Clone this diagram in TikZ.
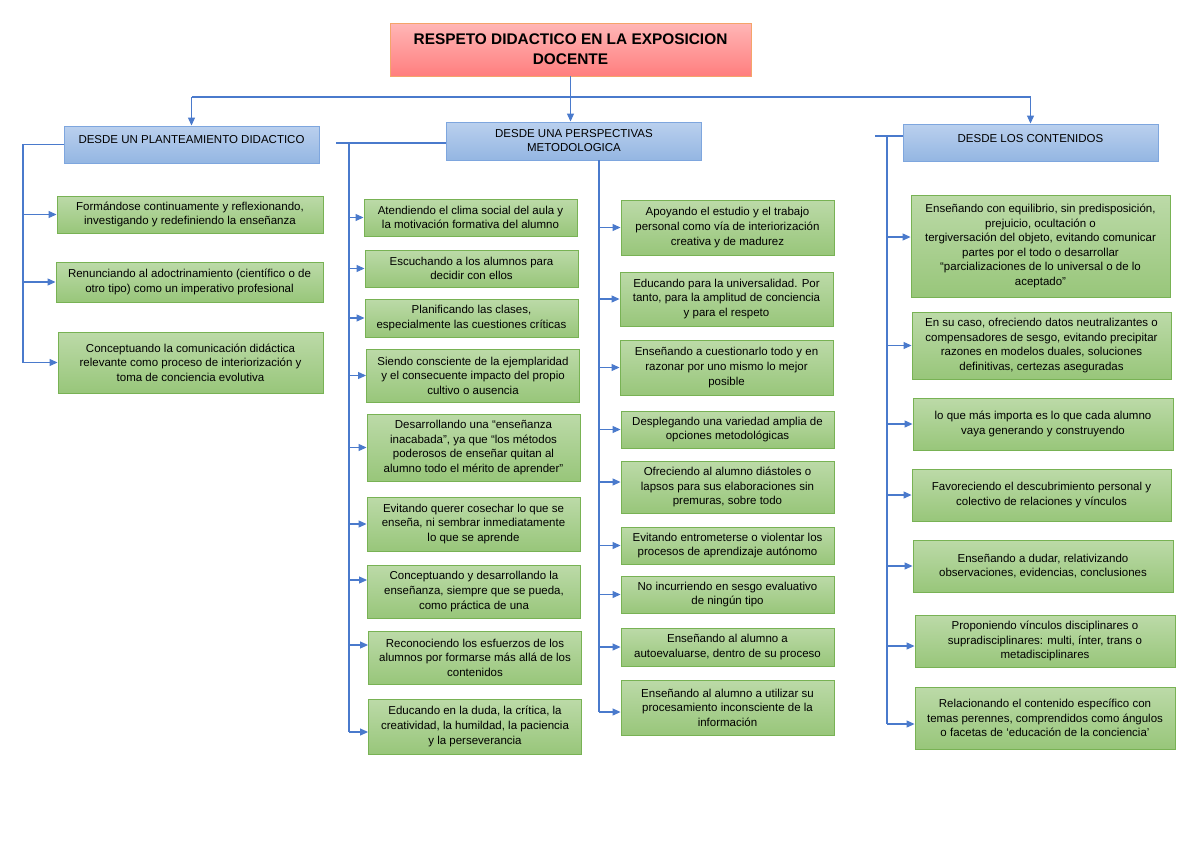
\documentclass[tikz,border=0pt]{standalone}
\usepackage{fontspec}
\setmainfont{Liberation Sans}
\usepackage{tikz}
\usetikzlibrary{arrows.meta, positioning, calc}
\definecolor{mylink}{RGB}{74,122,204}
\definecolor{ttop}{RGB}{255,182,182}
\definecolor{tbot}{RGB}{255,126,126}
\definecolor{tframe}{RGB}{244,164,106}
\definecolor{htop}{RGB}{186,208,238}
\definecolor{hbot}{RGB}{148,182,226}
\definecolor{hframe}{RGB}{126,166,222}
\definecolor{gtop}{RGB}{188,218,168}
\definecolor{gbot}{RGB}{152,198,122}
\definecolor{gframe}{RGB}{120,178,84}
\tikzset{
  titlebox/.style={rectangle, draw=tframe, top color=ttop, bottom color=tbot,
    minimum width=361pt, minimum height=53pt, align=center, inner sep=0pt,
    font=\fontsize{15.4}{20}\selectfont\bfseries, line width=0.9pt},
  headbox/.style={rectangle, draw=hframe, top color=htop, bottom color=hbot,
    minimum width=255pt, minimum height=37pt, align=center, inner sep=0pt,
    font=\fontsize{11.5}{14}\selectfont, line width=0.9pt},
  greenbox/.style={rectangle, draw=gframe, top color=gtop, bottom color=gbot,
    minimum width=213pt, align=center, inner sep=0pt,
    font=\fontsize{11.5}{14.6}\selectfont, line width=0.9pt},
  arrow/.style={-{Triangle[length=8pt, width=7pt]}, color=mylink, line width=1.1pt},
  line/.style={color=mylink, line width=1.1pt}
}

\begin{document}
\begin{tikzpicture}[x=1pt, y=-1pt]
  \useasboundingbox[fill=white] (0,0) rectangle (1200,847);

  % Title
  \node[titlebox] (t) at (570.5,49.5) {RESPETO DIDACTICO EN LA EXPOSICION\\DOCENTE};

  % Headers
  \node[headbox, text height=9pt, text depth=12pt] (h1) at (191.5,144.5) {DESDE UN PLANTEAMIENTO DIDACTICO};
  \node[headbox, minimum height=38pt] (h2) at (574,141) {DESDE UNA PERSPECTIVAS\\METODOLOGICA};
  \node[headbox, text height=9pt, text depth=10pt] (h3) at (1030.5,142.5) {DESDE LOS CONTENIDOS};

  % Title to headers
  \coordinate (bus) at (0,97);
  \draw[line] (t.south) -- (t.south |- bus);
  \draw[line] (h1.north |- bus) -- (h3.north |- bus);
  \draw[arrow] (h1.north |- bus) -- (h1.north);
  \draw[arrow] (t.south |- bus) -- (t.south |- h2.north);
  \draw[arrow] (h3.north |- bus) -- (h3.north);

  % Column 1
  \node[greenbox, minimum width=266pt, minimum height=37pt] (p1) at (190,214.5) {Formándose continuamente y reflexionando,\\investigando y redefiniendo la enseñanza};
  \node[greenbox, minimum width=267pt, minimum height=40pt] (p2) at (189.5,282) {Renunciando al adoctrinamiento (científico o de\\otro tipo) como un imperativo profesional};
  \node[greenbox, minimum width=265pt, minimum height=61pt] (p3) at (190.5,362.5) {Conceptuando la comunicación didáctica\\relevante como proceso de interiorización y\\toma de conciencia evolutiva};

  \coordinate (s1) at (23,0);
  \draw[line] (h1.west) -- (h1.west -| s1) -- (s1 |- p3.west);
  \draw[arrow] (s1 |- p1.west) -- (p1.west);
  \draw[arrow] (s1 |- p2.west) -- (p2.west);
  \draw[arrow] (s1 |- p3.west) -- (p3.west);

  % Column 2
  \node[greenbox, minimum height=37pt] (m1) at (470.5,217.5) {Atendiendo el clima social del aula y\\la motivación formativa del alumno};
  \node[greenbox, minimum height=37pt] (m2) at (471.5,268.5) {Escuchando a los alumnos para\\decidir con ellos};
  \node[greenbox, minimum height=38pt] (m3) at (471.5,318) {Planificando las clases,\\especialmente las cuestiones críticas};
  \node[greenbox, minimum height=53pt] (m4) at (473,375.5) {Siendo consciente de la ejemplaridad\\y el consecuente impacto del propio\\cultivo o ausencia};
  \node[greenbox, minimum height=67pt] (m5) at (473.5,447.5) {Desarrollando una “enseñanza\\inacabada”, ya que “los métodos\\poderosos de enseñar quitan al\\alumno todo el mérito de aprender”};
  \node[greenbox, minimum height=54pt] (m6) at (473.5,524) {Evitando querer cosechar lo que se\\enseña, ni sembrar inmediatamente\\lo que se aprende};
  \node[greenbox, minimum height=53pt] (m7) at (474,591.5) {Conceptuando y desarrollando la\\enseñanza, siempre que se pueda,\\como práctica de una};
  \node[greenbox, minimum height=53pt] (m8) at (475,657.5) {Reconociendo los esfuerzos de los\\alumnos por formarse más allá de los\\contenidos};
  \node[greenbox, minimum height=55pt] (m9) at (475,726.5) {Educando en la duda, la crítica, la\\creatividad, la humildad, la paciencia\\y la perseverancia};

  \coordinate (s2) at (349,0);
  \coordinate (s2a) at (336,143);
  \draw[line] (s2a) -- (s2a -| h2.west);
  \draw[line] (s2 |- s2a) -- ($(s2 |- m9.west)+(0,5.5)$);
  \foreach \b in {m1,m2,m3,m4,m5,m6}
    \draw[arrow] (s2 |- \b.west) -- (\b.west);
  \draw[arrow] ($(s2 |- m7.west)+(0,-11.5)$) -- ([yshift=11.5pt]m7.west);
  \draw[arrow] ($(s2 |- m8.west)+(0,-12.5)$) -- ([yshift=12.5pt]m8.west);
  \draw[arrow] ($(s2 |- m9.west)+(0,5.5)$) -- ([yshift=-5.5pt]m9.west);

  % Column 3
  \node[greenbox, minimum height=55pt] (n1) at (727.5,227.5) {Apoyando el estudio y el trabajo\\personal como vía de interiorización\\creativa y de madurez};
  \node[greenbox, minimum height=54pt] (n2) at (726.5,299) {Educando para la universalidad. Por\\tanto, para la amplitud de conciencia\\y para el respeto};
  \node[greenbox, minimum height=55pt] (n3) at (726.5,367.5) {Enseñando a cuestionarlo todo y en\\razonar por uno mismo lo mejor\\posible};
  \node[greenbox, minimum height=37pt] (n4) at (727.5,429.5) {Desplegando una variedad amplia de\\opciones metodológicas};
  \node[greenbox, minimum height=52pt] (n5) at (727.5,487) {Ofreciendo al alumno diástoles o\\lapsos para sus elaboraciones sin\\premuras, sobre todo};
  \node[greenbox, minimum height=37pt] (n6) at (727.5,545.5) {Evitando entrometerse o violentar los\\procesos de aprendizaje autónomo};
  \node[greenbox, minimum height=37pt] (n7) at (727.5,594.5) {No incurriendo en sesgo evaluativo\\de ningún tipo};
  \node[greenbox, minimum height=38pt] (n8) at (727.5,647) {Enseñando al alumno a\\autoevaluarse, dentro de su proceso};
  \node[greenbox, minimum height=55pt] (n9) at (727.5,707.5) {Enseñando al alumno a utilizar su\\procesamiento inconsciente de la\\información};

  \coordinate (s3) at (599,0);
  \draw[line] (s3 |- h2.south) -- ($(s3 |- n9.west)+(0,4.5)$);
  \foreach \b in {n1,n2,n3,n4,n6,n7,n8}
    \draw[arrow] (s3 |- \b.west) -- (\b.west);
  \draw[arrow] ($(s3 |- n5.west)+(0,-5)$) -- ([yshift=5pt]n5.west);
  \draw[arrow] ($(s3 |- n9.west)+(0,4.5)$) -- ([yshift=-4.5pt]n9.west);

  % Column 4
  \node[greenbox, minimum width=259pt, minimum height=102pt] (c1) at (1040.5,246) {Enseñando con equilibrio, sin predisposición,\\prejuicio, ocultación o\\tergiversación del objeto, evitando comunicar\\partes por el todo o desarrollar\\“parcializaciones de lo universal o de lo\\aceptado”};
  \node[greenbox, minimum width=259pt, minimum height=67pt] (c2) at (1041.5,345.5) {En su caso, ofreciendo datos neutralizantes o\\compensadores de sesgo, evitando precipitar\\razones en modelos duales, soluciones\\definitivas, certezas aseguradas};
  \node[greenbox, minimum width=260pt, minimum height=52pt] (c3) at (1043,424) {lo que más importa es lo que cada alumno\\vaya generando y construyendo};
  \node[greenbox, minimum width=259pt, minimum height=52pt] (c4) at (1041.5,495) {Favoreciendo el descubrimiento personal y\\colectivo de relaciones y vínculos};
  \node[greenbox, minimum width=260pt, minimum height=52pt] (c5) at (1043,566) {Enseñando a dudar, relativizando\\observaciones, evidencias, conclusiones};
  \node[greenbox, minimum width=260pt, minimum height=52pt] (c6) at (1045,641) {Proponiendo vínculos disciplinares o\\supradisciplinares: multi, ínter, trans o\\metadisciplinares};
  \node[greenbox, minimum width=260pt, minimum height=62pt] (c7) at (1045,718) {Relacionando el contenido específico con\\temas perennes, comprendidos como ángulos\\o facetas de ‘educación de la conciencia’};

  \coordinate (s4) at (887,0);
  \coordinate (s4a) at (875,136);
  \draw[line] (s4a) -- (s4a -| h3.west);
  \draw[line] (s4 |- s4a) -- ($(s4 |- c7.west)+(0,6)$);
  \foreach \b in {c2,c3,c4,c5}
    \draw[arrow] (s4 |- \b.west) -- (\b.west);
  \draw[arrow] ($(s4 |- c1.west)+(0,-9)$) -- ([yshift=9pt]c1.west);
  \draw[arrow] ($(s4 |- c6.west)+(0,5)$) -- ([yshift=-5pt]c6.west);
  \draw[arrow] ($(s4 |- c7.west)+(0,6)$) -- ([yshift=-6pt]c7.west);
\end{tikzpicture}
\end{document}
